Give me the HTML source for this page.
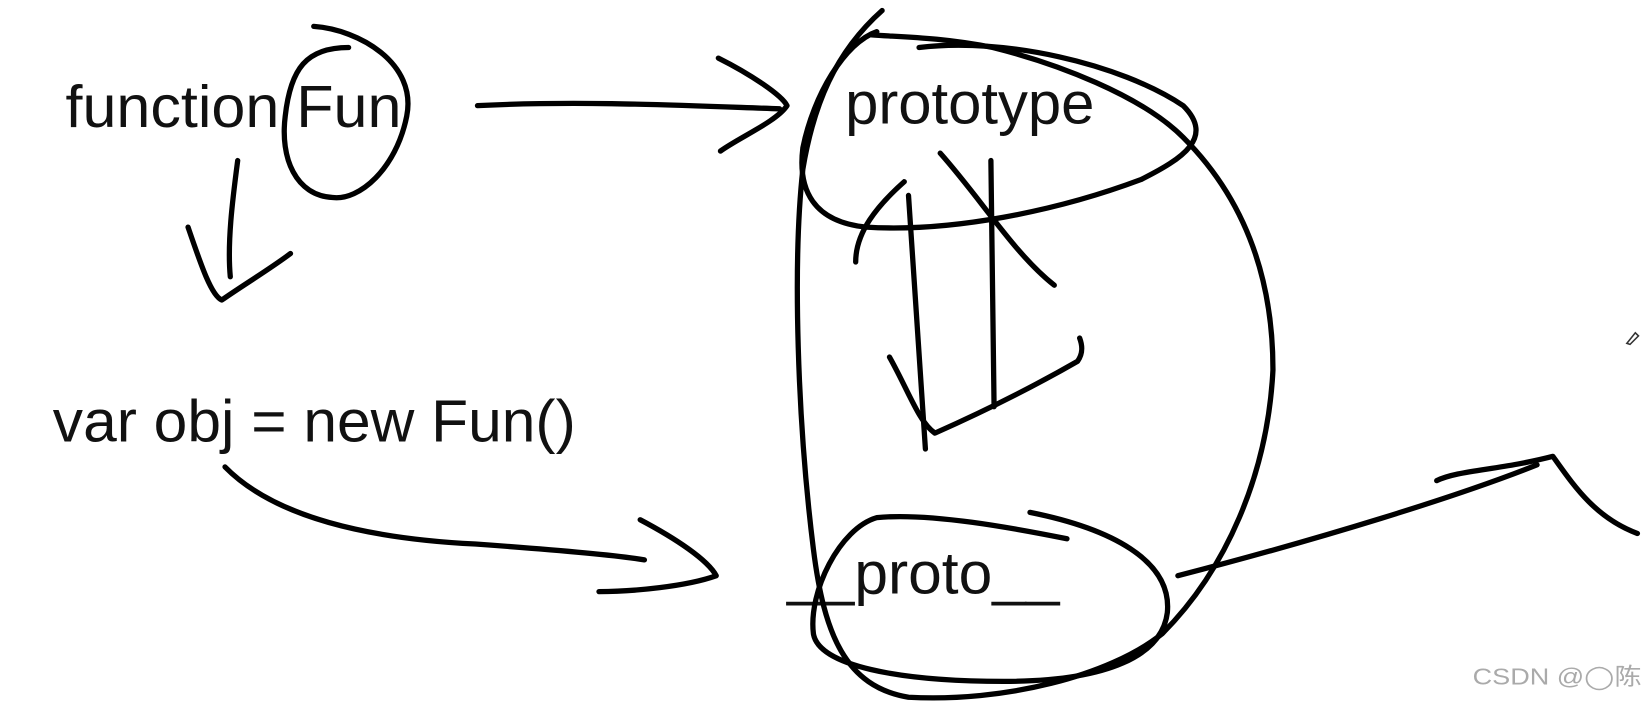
<!DOCTYPE html>
<html><head><meta charset="utf-8"><style>
html,body{margin:0;padding:0;background:#fff;width:1648px;height:703px;overflow:hidden}
svg{display:block}
text{font-family:"Liberation Sans",Arial,sans-serif;fill:#111}
</style></head><body>
<svg width="1648" height="703" viewBox="0 0 1648 703" xmlns="http://www.w3.org/2000/svg">
<g transform="scale(1.0564)">
<text x="62" y="120" font-size="56" textLength="318" lengthAdjust="spacingAndGlyphs">function Fun</text>
<text x="800" y="117" font-size="56" textLength="236" lengthAdjust="spacingAndGlyphs">prototype</text>
<text x="50" y="418" font-size="56" textLength="495" lengthAdjust="spacingAndGlyphs">var obj = new Fun()</text>
<text x="745" y="562" font-size="56" textLength="258" lengthAdjust="spacingAndGlyphs">__proto__</text>
<text x="1394" y="648" font-size="22" style="fill:#aaa" font-family="Liberation Sans, Noto Sans CJK SC, sans-serif" textLength="160" lengthAdjust="spacingAndGlyphs">CSDN @◯陈</text>
<g fill="none" stroke="#000" stroke-width="5" stroke-linecap="round" stroke-linejoin="round">
<path d="M297,25 C340,28 395,60 385,110 C375,160 340,190 315,187 C280,185 265,150 270,110 C275,65 290,45 330,45"/>
<path d="M452,100 C550,95 650,100 738,103"/>
<path d="M680,55 C710,70 740,90 745,100 C735,115 700,130 682,143"/>
<path d="M225,152 C220,190 215,230 218,262"/>
<path d="M178,215 C190,250 200,280 210,284 C230,270 255,255 275,240"/>
<path d="M213,442 C260,490 350,510 450,515 C520,520 580,525 610,530"/>
<path d="M606,492 C640,510 670,530 678,545 C650,555 600,560 567,560"/>
<path d="M835,10 C790,50 770,100 760,160 C750,250 755,400 770,520 C780,600 800,650 860,660 C950,665 1050,640 1100,600 C1160,540 1200,450 1205,350 C1205,250 1170,180 1120,130 C1080,90 1000,60 940,45 C890,35 850,35 825,33"/>
<path d="M870,45 C950,35 1060,60 1120,100 C1150,130 1120,150 1080,170 C1000,200 900,220 820,215 C770,210 755,180 760,140 C770,90 800,40 830,30"/>
<path d="M860,185 C865,260 870,340 876,425"/>
<path d="M842,338 C860,370 870,400 885,410 C930,390 980,365 1020,342 C1025,335 1025,328 1022,320"/>
<path d="M938,152 L941,385"/>
<path d="M890,145 C930,190 960,240 998,270"/>
<path d="M810,248 C810,220 830,195 856,172"/>
<path d="M975,485 C1050,500 1110,530 1105,580 C1100,620 1050,645 950,645 C850,645 775,630 770,600 C765,560 795,500 830,490 C880,485 960,500 1010,510"/>
<path d="M1115,545 C1250,510 1380,470 1455,440"/>
<path d="M1360,455 C1380,445 1420,445 1470,432 C1490,460 1510,490 1550,505"/>
</g>
<path d="M1540,325 l8,-10 l3,3 l-8,8 z" fill="none" stroke="#333" stroke-width="1.5"/>
</g>
</svg>
</body></html>
